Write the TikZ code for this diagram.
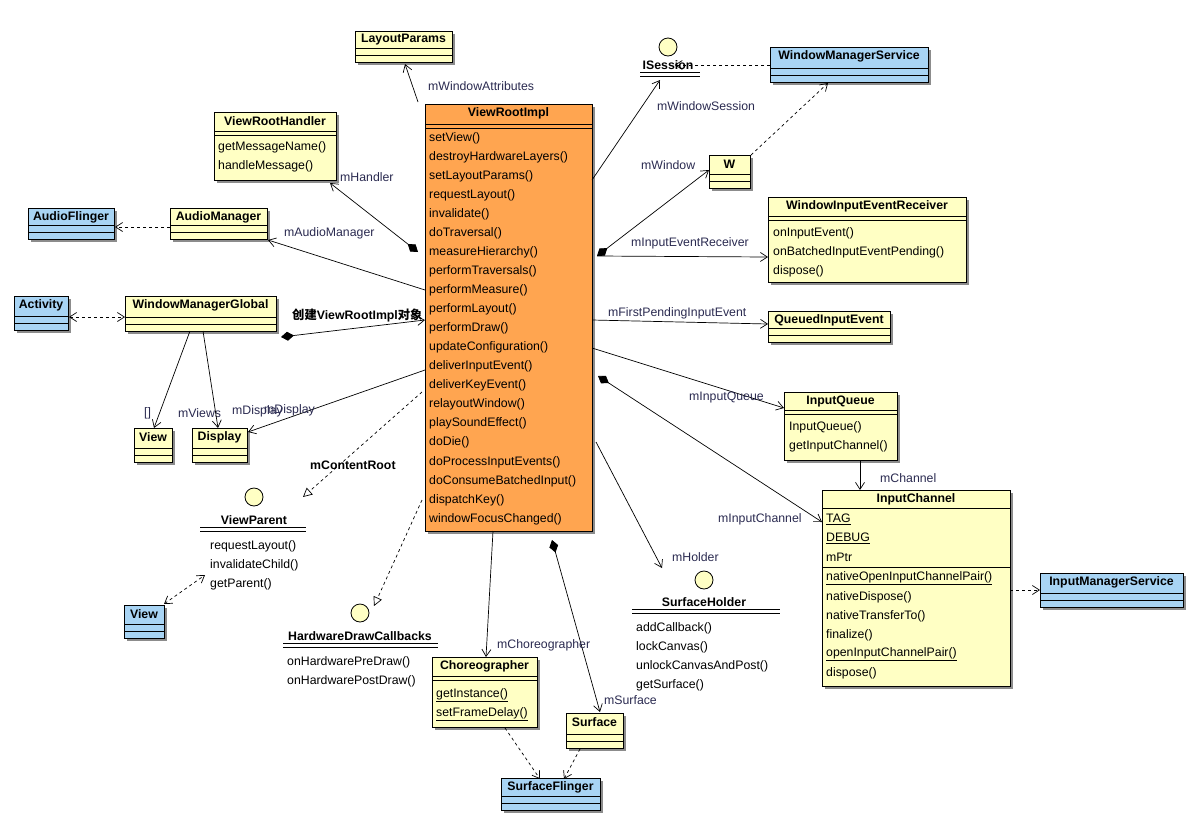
\documentclass[tikz,border=0pt]{standalone}
\usepackage{fontspec}
\setmainfont{Liberation Sans}
\newfontfamily\cjk{Noto Sans CJK SC}
\usetikzlibrary{arrows.meta,shadows}
\definecolor{cy}{HTML}{FFFFC4}
\definecolor{cb}{HTML}{A8D4F4}
\definecolor{co}{HTML}{FFA550}
\definecolor{lc}{HTML}{2A2A50}
\tikzset{
  box/.style={draw=black,line width=1pt,anchor=north west,inner sep=0pt,drop shadow={shadow xshift=2.5pt,shadow yshift=-2.5pt,fill=black!45,opacity=1}},
  tt/.style={font=\fontsize{12.3}{14}\selectfont\bfseries,inner sep=0pt},
  mt/.style={font=\fontsize{12.3}{14}\selectfont,anchor=west,inner sep=0pt},
  lb/.style={font=\fontsize{12.3}{14}\selectfont,text=lc,anchor=west,inner sep=0pt},
  dep/.style={draw=black,line width=0.7pt,-{Straight Barb[length=7pt,width=9pt]}},
  dsh/.style={dep,dashed},
  dsh2/.style={dsh,{Straight Barb[length=7pt,width=9pt]}-{Straight Barb[length=7pt,width=9pt]}},
  real/.style={draw=black,line width=0.7pt,dashed,-{Triangle[open,length=9pt,width=9pt]}},
  comp/.style={dep,{Diamond[length=13pt,width=9pt]}-{Straight Barb[length=7pt,width=9pt]}},
  sep/.style={line width=0.8pt},
}
\newcommand\cbox[7]{\node[box,fill=#7,minimum width={(#5-#3)*1pt},minimum height={(#6-#4)*1pt}] (#1) at (#3,#4) {};
  \node[tt] at ({(#3+#5)/2},{#4+9}) {#2};}
\newcommand\simple[7]{\cbox{#1}{#2}{#3}{#4}{#5}{#6}{#7}
  \draw[sep] (#3,{#6-14}) -- (#5,{#6-14}); \draw[sep] (#3,{#6-7}) -- (#5,{#6-7});}
\newcommand\hl[3]{\draw[sep] (#1,#3) -- (#2,#3);}
\newcommand\m[3]{\node[mt] at (#1,#2) {#3};}
\newcommand\iface[7]{\node[circle,draw=black,line width=0.8pt,fill=cy,minimum size=18pt,inner sep=0pt] (#1) at (#3,#4) {};
  \node[tt,anchor=base] (#1t) at (#3,{#7-3}) {#2};
  \draw[sep] (#5,#7) -- (#6,#7); \draw[sep] (#5,{#7+4}) -- (#6,{#7+4});}
\begin{document}
\begin{tikzpicture}[x=1pt,y=-1pt]
\useasboundingbox (0,0) rectangle (1200,836);
% ViewRootImpl
\cbox{vri}{ViewRootImpl}{425}{104}{592}{531}{co}
\hl{425}{592}{124}\hl{425}{592}{128}
\foreach \t [count=\i from 0] in {setView(),destroyHardwareLayers(),setLayoutParams(),requestLayout(),invalidate(),doTraversal(),measureHierarchy(),performTraversals(),performMeasure(),performLayout(),performDraw(),updateConfiguration(),deliverInputEvent(),deliverKeyEvent(),relayoutWindow(),playSoundEffect(),doDie(),doProcessInputEvents(),doConsumeBatchedInput(),dispatchKey(),windowFocusChanged()}
  {\node[mt] at (429,{138+19.05*\i}) {\t};}
% simple classes
\simple{lp}{LayoutParams}{355}{31}{452}{62}{cy}
\simple{af}{AudioFlinger}{28}{208}{114}{239}{cb}
\simple{am}{AudioManager}{170}{208}{267}{239}{cy}
\simple{act}{Activity}{14}{296}{68}{330}{cb}
\simple{wmg}{WindowManagerGlobal}{125}{296}{276}{331}{cy}
\simple{v1}{View}{134}{428}{172}{462}{cy}
\simple{disp}{Display}{192}{428}{247}{462}{cy}
\simple{v2}{View}{124}{605}{164}{638}{cb}
\simple{surf}{Surface}{566}{713}{623}{748}{cy}
\simple{sf}{SurfaceFlinger}{501}{778}{600}{810}{cb}
\simple{wms}{WindowManagerService}{770}{47}{928}{82}{cb}
\simple{w}{W}{709}{155}{750}{188}{cy}
\simple{qie}{QueuedInputEvent}{768}{311}{890}{342}{cy}
\simple{ims}{InputManagerService}{1040}{573}{1183}{607}{cb}
% ViewRootHandler
\cbox{vrh}{ViewRootHandler}{214}{112}{336}{180}{cy}
\hl{214}{336}{131}\hl{214}{336}{135}
\m{218}{147}{getMessageName()}\m{218}{166}{handleMessage()}
% WindowInputEventReceiver
\cbox{wier}{WindowInputEventReceiver}{768}{197}{966}{282}{cy}
\hl{768}{966}{216}\hl{768}{966}{220}
\m{773}{233}{onInputEvent()}\m{773}{252}{onBatchedInputEventPending()}\m{773}{271}{dispose()}
% InputQueue
\cbox{iq}{InputQueue}{784}{392}{897}{460}{cy}
\hl{784}{897}{410}\hl{784}{897}{414}
\m{789}{427}{InputQueue()}\m{789}{446}{getInputChannel()}
% InputChannel
\cbox{ic}{InputChannel}{822}{490}{1010}{686}{cy}
\hl{822}{1010}{508}\hl{822}{1010}{567}
\m{826}{519}{\underline{TAG}}\m{826}{538}{\underline{DEBUG}}\m{826}{557}{mPtr}
\m{826}{578}{\underline{nativeOpenInputChannelPair()}}\m{826}{597}{nativeDispose()}\m{826}{616}{nativeTransferTo()}
\m{826}{635}{finalize()}\m{826}{654}{\underline{openInputChannelPair()}}\m{826}{673}{dispose()}
% Choreographer
\cbox{ch}{Choreographer}{432}{657}{537}{727}{cy}
\hl{432}{537}{676}\hl{432}{537}{680}
\m{436}{695}{\underline{getInstance()}}\m{436}{714}{\underline{setFrameDelay()}}
% interfaces
\iface{isess}{ISession}{668}{47}{640}{700}{72}
\iface{vp}{ViewParent}{254}{497}{200}{306}{527}
\m{210}{546}{requestLayout()}\m{210}{565}{invalidateChild()}\m{210}{584}{getParent()}
\iface{hdc}{HardwareDrawCallbacks}{360}{613}{283}{438}{643}
\m{287}{662}{onHardwarePreDraw()}\m{287}{681}{onHardwarePostDraw()}
\iface{sh}{SurfaceHolder}{704}{580}{632}{780}{609}
\m{636}{628}{addCallback()}\m{636}{647}{lockCanvas()}\m{636}{666}{unlockCanvasAndPost()}\m{636}{685}{getSurface()}
% coordinates
\coordinate (a1) at (418,102); \coordinate (a1e) at (405,64);
\coordinate (a2) at (592,180); \coordinate (a2e) at (660,80);
\coordinate (dW) at (597,256); \coordinate (wE) at (709,170);
\coordinate (a3) at (592,320); \coordinate (a4) at (592,348);
\coordinate (dC) at (598,376); \coordinate (icE) at (822,522);
\coordinate (a5) at (596,442); \coordinate (shE) at (662,568);
\coordinate (dS) at (552,540); \coordinate (sE) at (600,712);
\coordinate (a6) at (493,531); \coordinate (a7) at (422,500); \coordinate (a8) at (422,392);
\coordinate (a9) at (425,370); \coordinate (a10) at (425,290); \coordinate (dH) at (418,252);
\coordinate (dG) at (281,337); \coordinate (vriG) at (425,320);
% connectors
\draw[dep] (a1) -- (a1e);
\node[lb] at (428,86) {mWindowAttributes};
\draw[dep] (a2) -- (a2e);
\node[lb] at (657,106) {mWindowSession};
\draw[dsh] (wms.west |- 0,65) -- (isess.south east |- 0,65);
\draw[dsh] (w.north east) -- (828,83);
\draw[comp] (dW) -- (wE);
\node[lb] at (641,165) {mWindow};
\draw[dep] (dW) -- (wier.west |- 0,257);
\node[lb] at (631,243) {mInputEventReceiver};
\draw[dep] (a3) -- (qie.west |- 0,324);
\node[lb] at (608,313) {mFirstPendingInputEvent};
\draw[dep] (a4) -- (784,408);
\node[lb] at (689,397) {mInputQueue};
\draw[comp] (dC) -- (icE);
\node[lb] at (718,519) {mInputChannel};
\draw[dep] (860,460) -- (860,490);
\node[lb] at (880,478) {mChannel};
\draw[dsh] (1010,590) -- (ims.west |- 0,590);
\draw[dep] (a5) -- (shE);
\node[lb] at (672,557) {mHolder};
\draw[comp] (dS) -- (sE);
\node[lb] at (604,700) {mSurface};
\draw[dep] (a6) -- (486,657);
\node[lb] at (497,645) {mChoreographer};
\draw[real] (a7) -- (374,606);
\draw[real] (a8) -- (303,497);
\node[tt,anchor=west] at (310,465) {mContentRoot};
\draw[dep] (a9) -- (248,432);
\node[lb] at (264,410) {mDisplay};
\draw[dep] (190,331) -- (154,428);
\node[lb] at (144,413) {[]};
\node[lb] at (178,413) {mViews};
\draw[dep] (203,331) -- (218,428);
\node[lb] at (232,411) {mDisplay};
\draw[comp] (dG) -- (vriG);
\node[tt,anchor=west] at (292,315) {{\cjk 创建}ViewRootImpl{\cjk 对象}};
\draw[dsh2] (act.east |- 0,317) -- (wmg.west |- 0,317);
\draw[dsh] (am.west |- 0,227) -- (af.east |- 0,227);
\draw[dep] (a10) -- (268,240);
\node[lb] at (284,233) {mAudioManager};
\draw[comp] (dH) -- (330,183);
\node[lb] at (340,177) {mHandler};
\draw[dsh2] (164,604) -- (205,575);
\draw[dsh] (505,728) -- (540,779);
\draw[dsh] (580,749) -- (564,779);
\end{tikzpicture}
\end{document}
